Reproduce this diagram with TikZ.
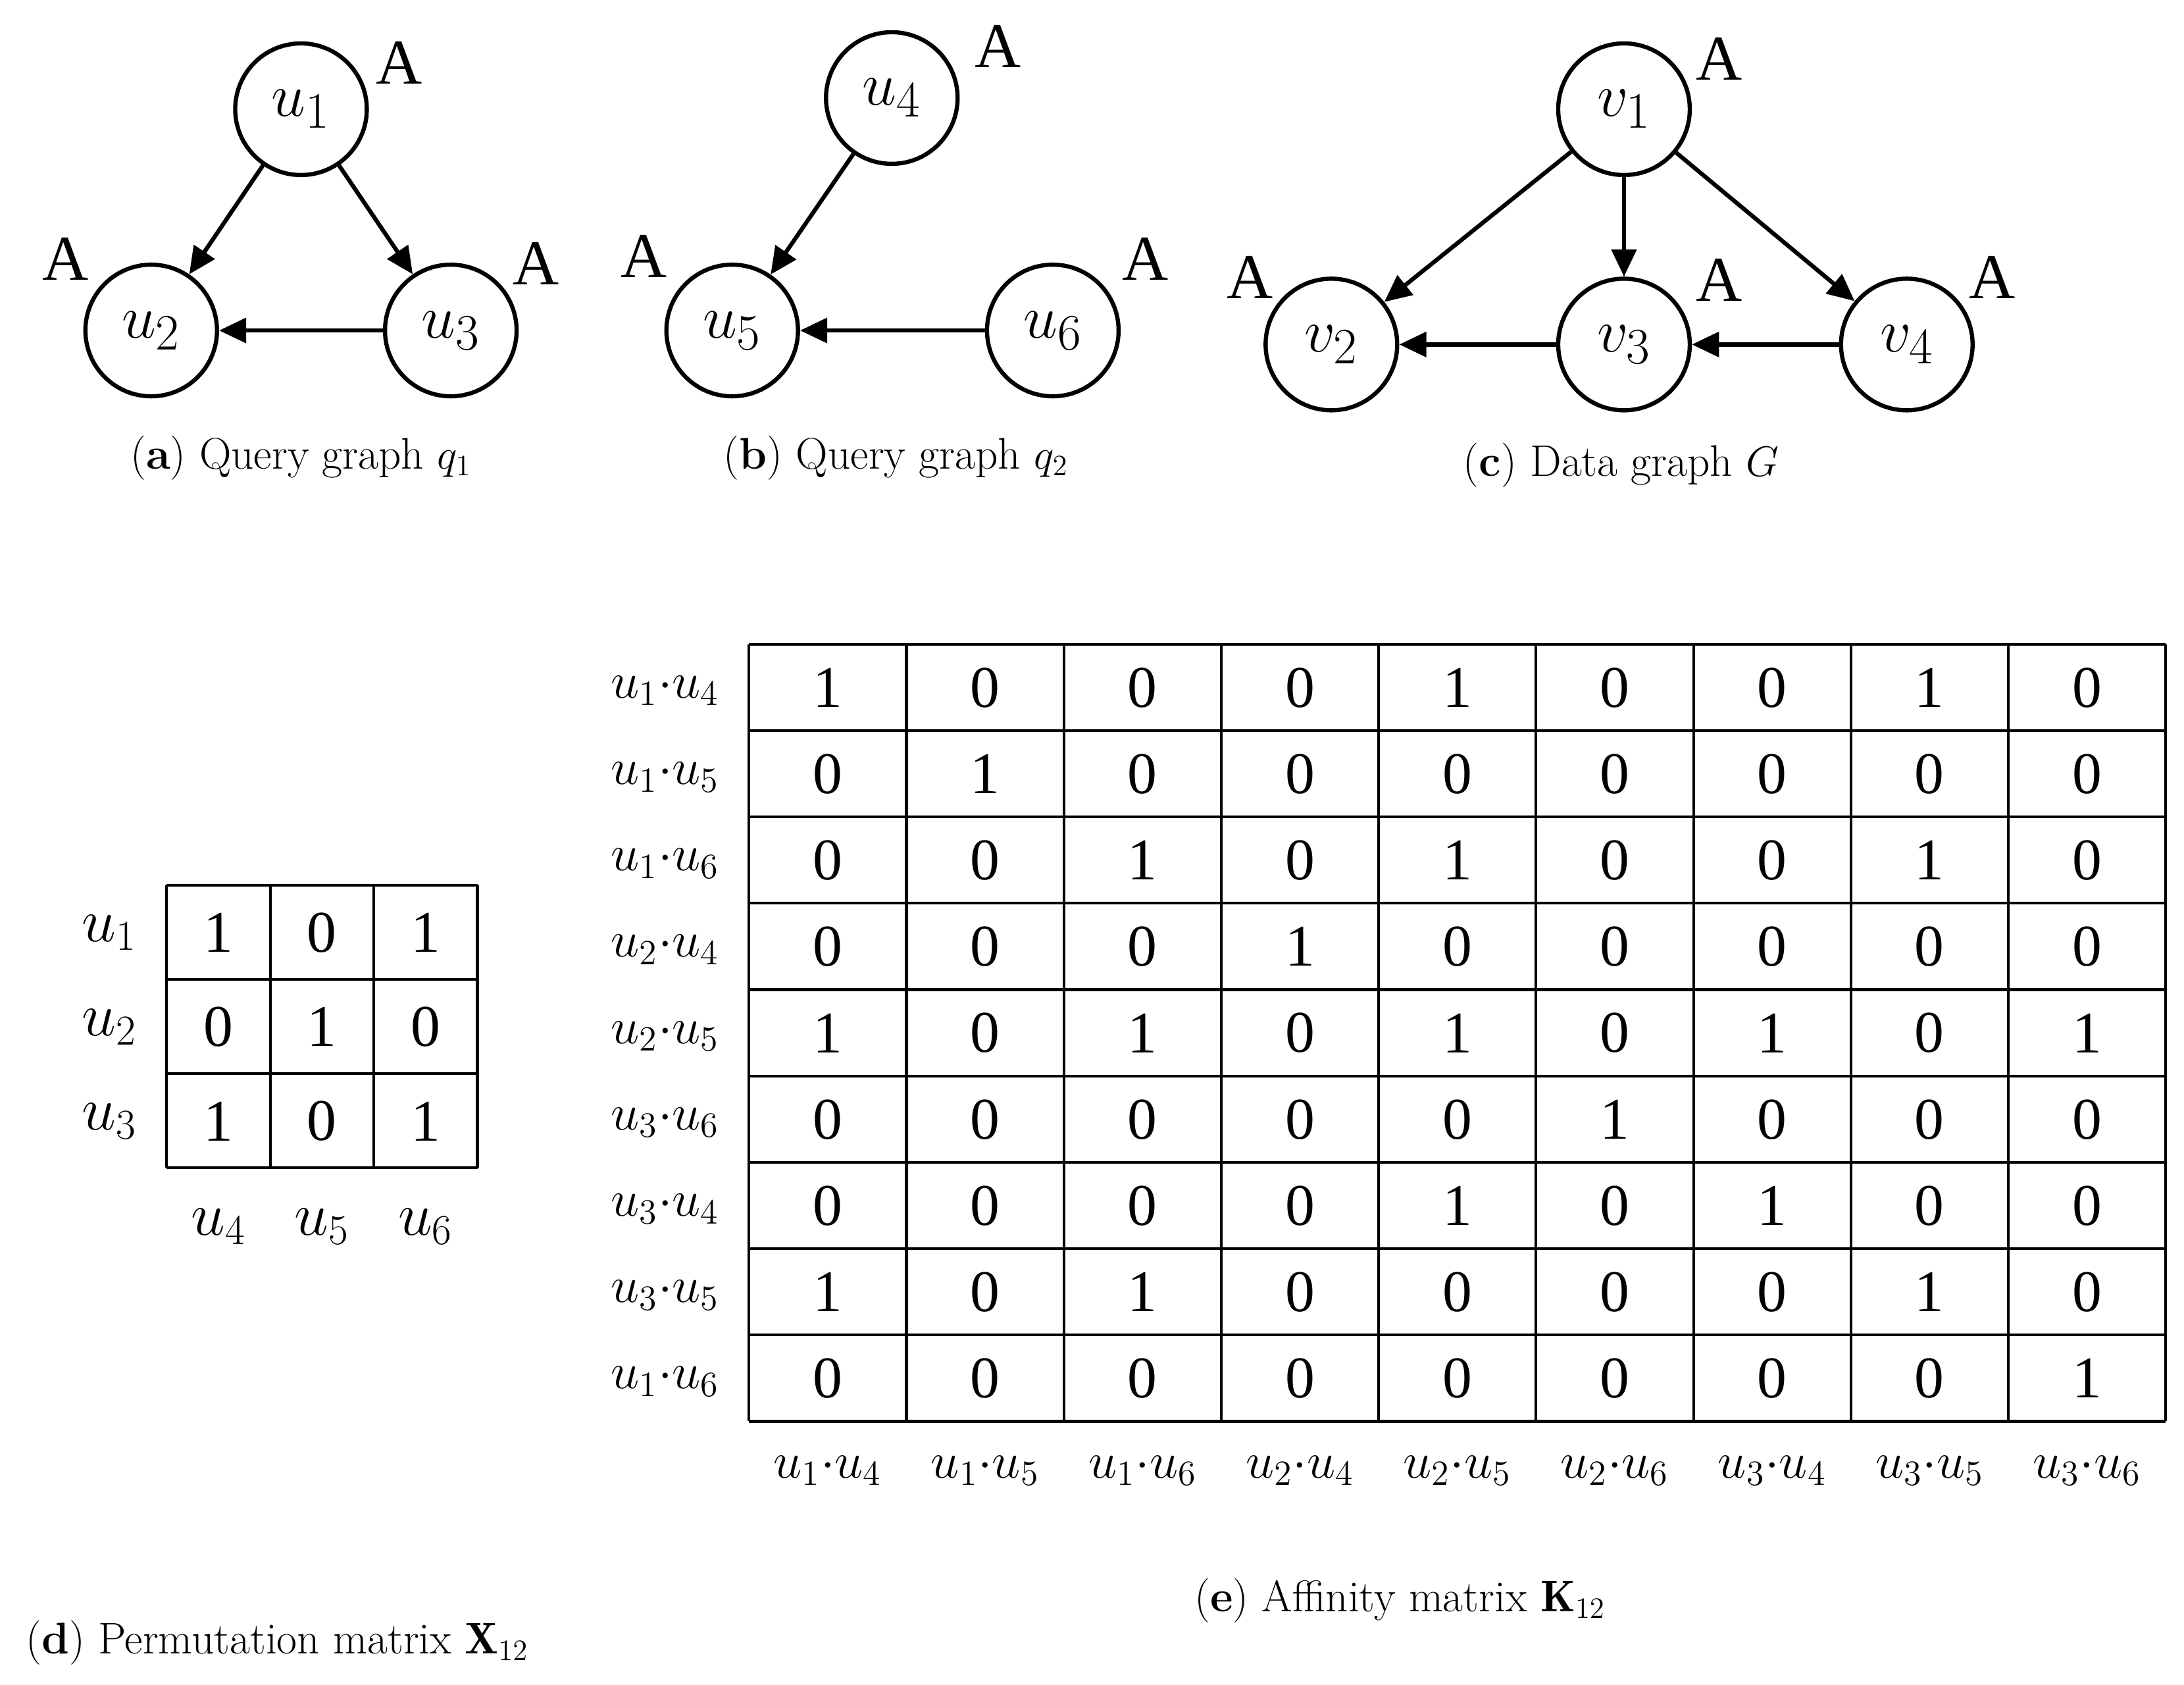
\documentclass[tikz,border=0pt]{standalone}
\usepackage{fontspec}
\newfontfamily\tms{Liberation Serif}
\usetikzlibrary{arrows.meta}
\begin{document}
\begin{tikzpicture}[x=0.02cm,y=-0.02cm,
  vert/.style={circle,draw,line width=1.7pt,minimum size=94*0.02cm,inner sep=0pt,font=\fontsize{28}{30}\selectfont},
  edge/.style={line width=1.7pt,-{Triangle[length=11pt,width=10pt]}},
  lab/.style={font=\tms\fontsize{26}{28}\selectfont},
  captxt/.style={font=\fontsize{18}{20}\selectfont},
  num/.style={font=\tms\fontsize{24}{26}\selectfont},
  ml/.style={font=\fontsize{20}{22}\selectfont},
  gridl/.style={line width=1.1pt}]
\useasboundingbox (0,0) rectangle (1560,1203);
% (a)
\node[vert] (u1) at (215,78) {$u_1$};
\node[vert] (u2) at (108,236) {$u_2$};
\node[vert] (u3) at (322,236) {$u_3$};
\node[lab] (a1) at (285,45) {A};
\node[lab] (a2) at (47,185) {A};
\node[lab] (a3) at (383,188) {A};
\draw[edge] (u1) -- (u2);
\draw[edge] (u1) -- (u3);
\draw[edge] (u3) -- (u2);
\node[captxt] (ca) at (215,327) {(\textbf{a}) Query graph $q_1$};
% (b)
\node[vert] (u4) at (637,70) {$u_4$};
\node[vert] (u5) at (523,236) {$u_5$};
\node[vert] (u6) at (752,236) {$u_6$};
\node[lab] (b1) at (713,33) {A};
\node[lab] (b2) at (460,183) {A};
\node[lab] (b3) at (818,185) {A};
\draw[edge] (u4) -- (u5);
\draw[edge] (u6) -- (u5);
\node[captxt] (cb) at (640,327) {(\textbf{b}) Query graph $q_2$};
% (c)
\node[vert] (v1) at (1160,78) {$v_1$};
\node[vert] (v2) at (951,246) {$v_2$};
\node[vert] (v3) at (1160,246) {$v_3$};
\node[vert] (v4) at (1362,246) {$v_4$};
\node[lab] (c1) at (1228,42) {A};
\node[lab] (c2) at (893,198) {A};
\node[lab] (c3) at (1228,200) {A};
\node[lab] (c4) at (1423,198) {A};
\draw[edge] (v1) -- (v2);
\draw[edge] (v1) -- (v3);
\draw[edge] (v1) -- (v4);
\draw[edge] (v3) -- (v2);
\draw[edge] (v4) -- (v3);
\node[captxt] (cc) at (1158,332) {(\textbf{c}) Data graph $G$};
% (d)
\foreach \k in {0,...,3} {
  \draw[gridl] ({119+74*\k},632) -- ({119+74*\k},834);
  \draw[gridl] (119,{632+67.33*\k}) -- (341,{632+67.33*\k});
}
\foreach \r [count=\i from 0] in {{1,0,1},{0,1,0},{1,0,1}} {
  \foreach \v [count=\j from 0] in \r {
    \node[num] (d\i\j) at ({156+74*\j},{666+67.33*\i}) {\v};
  }
}
\foreach \l [count=\i from 0] in {1,2,3} {
  \node[font=\fontsize{24}{26}\selectfont] (dr\i) at (78,{666+67.33*\i}) {$u_\l$};
}
\foreach \l [count=\j from 0] in {4,5,6} {
  \node[font=\fontsize{24}{26}\selectfont] (dc\j) at ({156+74*\j},876) {$u_\l$};
}
\node[captxt] (cd) at (198,1173) {(\textbf{d}) Permutation matrix $\mathbf{X}_{12}$};
% (e)
\foreach \k in {0,...,9} {
  \draw[gridl] ({535+112.44*\k},460) -- ({535+112.44*\k},1015);
  \draw[gridl] (535,{460+61.67*\k}) -- (1547,{460+61.67*\k});
}
\foreach \r [count=\i from 0] in {
 {1,0,0,0,1,0,0,1,0},
 {0,1,0,0,0,0,0,0,0},
 {0,0,1,0,1,0,0,1,0},
 {0,0,0,1,0,0,0,0,0},
 {1,0,1,0,1,0,1,0,1},
 {0,0,0,0,0,1,0,0,0},
 {0,0,0,0,1,0,1,0,0},
 {1,0,1,0,0,0,0,1,0},
 {0,0,0,0,0,0,0,0,1}} {
  \foreach \v [count=\j from 0] in \r {
    \node[num] (e\i-\j) at ({591.2+112.44*\j},{491+61.67*\i}) {\v};
  }
}
\foreach \a/\b [count=\i from 0] in {1/4,1/5,1/6,2/4,2/5,3/6,3/4,3/5,1/6} {
  \node[ml,anchor=east] (er\i) at (520,{493+61.67*\i}) {$u_\a{\cdot}u_\b$};
}
\foreach \a/\b [count=\j from 0] in {1/4,1/5,1/6,2/4,2/5,2/6,3/4,3/5,3/6} {
  \node[ml] (ec\j) at ({591.2+112.44*\j},1050) {$u_\a{\cdot}u_\b$};
}
\node[captxt] (ce) at (1000,1143) {(\textbf{e}) Affinity matrix $\mathbf{K}_{12}$};
\end{tikzpicture}
\end{document}
